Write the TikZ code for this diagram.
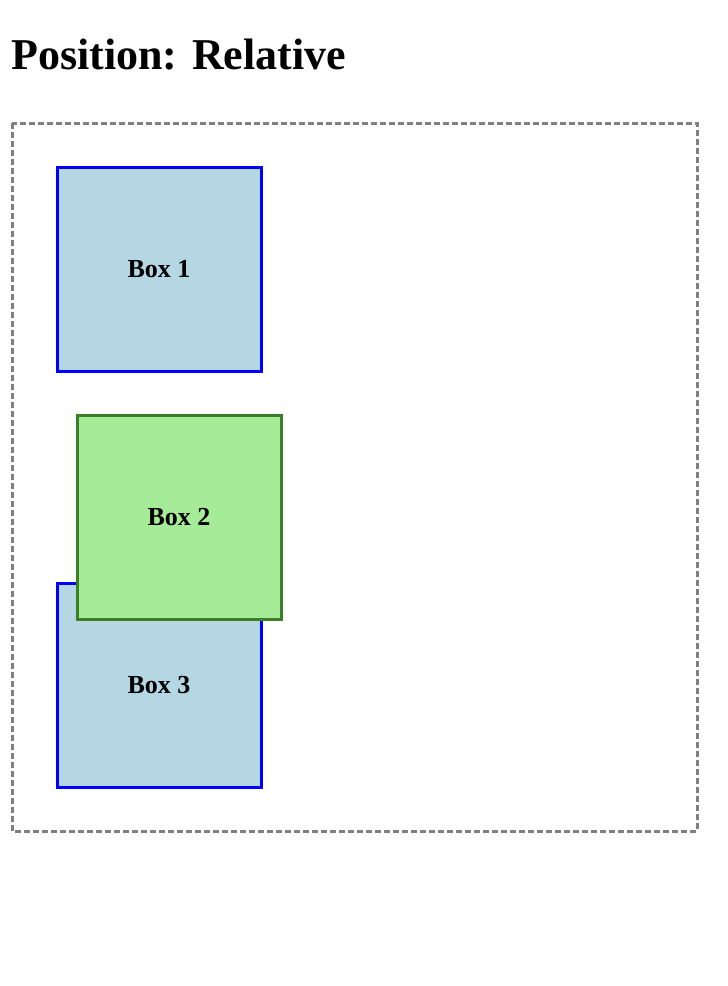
\documentclass[tikz,border=0pt]{standalone}
\usepackage{fontspec}
\setmainfont{Liberation Serif}
\begin{document}
\begin{tikzpicture}[x=1pt,y=-1pt,
  bluebox/.style={draw=blue,fill={rgb,255:red,181;green,215;blue,227},line width=3pt},
  greenbox/.style={draw={rgb,255:red,58;green,127;blue,39},fill={rgb,255:red,166;green,236;blue,152},line width=3pt},
  lbl/.style={font=\bfseries\fontsize{26}{30}\selectfont}]
\useasboundingbox (0,0) rectangle (728,986);
\node[anchor=base west,inner sep=0,font=\bfseries\fontsize{44}{50}\selectfont] (title) at (11,69) {Position: Relative};
\draw[gray,line width=3pt,dash pattern=on 6pt off 3pt] (12,123) rectangle (697,831);
\draw[bluebox] (57,167) rectangle (261,371);
\node[lbl] (b1) at (159,269) {Box 1};
\draw[bluebox] (57,583) rectangle (261,787);
\node[lbl] (b3) at (159,685) {Box 3};
\draw[greenbox] (77,415) rectangle (281,619);
\node[lbl] (b2) at (179,517) {Box 2};
\end{tikzpicture}
\end{document}
